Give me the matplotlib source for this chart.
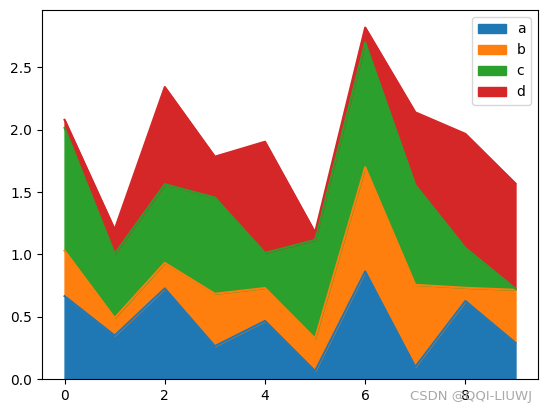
import numpy as np
import pandas as pd
import matplotlib
matplotlib.use('Agg')
import matplotlib.pyplot as plt

# values (stacked area, each column is one layer)
a = [0.665, 0.349, 0.727, 0.264, 0.466, 0.064, 0.863, 0.098, 0.626, 0.290]
b = [0.365, 0.141, 0.205, 0.420, 0.264, 0.261, 0.837, 0.658, 0.106, 0.426]
c = [0.985, 0.514, 0.631, 0.772, 0.282, 0.791, 1.000, 0.801, 0.320, 0.008]
d = [0.065, 0.196, 0.780, 0.328, 0.892, 0.060, 0.120, 0.583, 0.915, 0.844]

df = pd.DataFrame({'a': a, 'b': b, 'c': c, 'd': d})

fig = plt.figure(figsize=(5.47, 4.13), dpi=100)
ax = fig.add_axes([0.0768, 0.0823, 0.9068, 0.8935])
df.plot.area(ax=ax)
ax.legend(loc='upper right')

# watermark
fig.text(0.973, 0.039, 'CSDN @QQI-LIUWJ', ha='right', va='center',
         fontsize=9.5, color='#a8a8a8')

fig.savefig('out.png', dpi=100)
